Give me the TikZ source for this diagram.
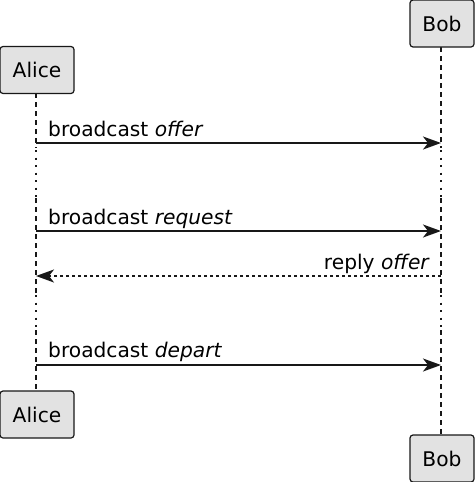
\documentclass[tikz,border=0pt]{standalone}
\usepackage{fontspec}
\setmainfont{DejaVu Sans}
\usetikzlibrary{arrows.meta}
\usetikzlibrary{positioning}

\definecolor{boxfill}{HTML}{E2E2E2}
\definecolor{ink}{HTML}{181818}

\tikzset{
  participant/.style={draw=ink, fill=boxfill, rounded corners=3pt, line width=1.2pt,
    inner sep=0pt, minimum height=47pt, font=\fontsize{20.2}{24}\selectfont},
  life/.style={draw=ink, line width=1.3pt, dash pattern=on 5pt off 4pt},
  delay/.style={draw=ink, line width=1.3pt, dash pattern=on 2pt off 5.5pt},
  msg/.style={draw=ink, line width=1.7pt, -{Stealth[length=18pt,width=13pt,inset=5pt]}},
  reply/.style={msg, dash pattern=on 3pt off 3pt},
  msglabel/.style={font=\fontsize{20.2}{24}\selectfont, inner sep=0pt},
}

\begin{document}
\begin{tikzpicture}[x=1pt, y=-1pt]
    \useasboundingbox (0,0) rectangle (474,482);

    % lifelines, dashed with dotted delays
    \foreach \x/\top/\bot in {36/93/391, 441/47/435}{
      \draw[life] (\x,\top) -- (\x,148);
      \draw[delay] (\x,150) -- (\x,198);
      \draw[life] (\x,198) -- (\x,293);
      \draw[delay] (\x,295) -- (\x,330);
      \draw[life] (\x,330) -- (\x,\bot);
    }

    \node[participant, minimum width=74pt] (alice) at (37,70) {Alice};
    \node[participant, minimum width=64pt] (bob) at (442,23.5) {Bob};
    \node[participant, minimum width=74pt] (aliceend) at (37,414.5) {Alice};
    \node[participant, minimum width=64pt] (bobend) at (442,458.5) {Bob};

    \coordinate (a1) at (36,143);
    \coordinate (b1) at (441,143);
    \coordinate (a2) at (36,231);
    \coordinate (b2) at (441,231);
    \coordinate (a3) at (36,276);
    \coordinate (b3) at (441,276);
    \coordinate (a4) at (36,365);
    \coordinate (b4) at (441,365);

    \draw[msg] (a1) -- (b1);
    \draw[msg] (a2) -- (b2);
    \draw[reply] (b3) -- (a3);
    \draw[msg] (a4) -- (b4);

    \node[msglabel, anchor=base west] (offer) at ([xshift=12pt,yshift=7pt]a1) {broadcast \textit{offer}};
    \node[msglabel, anchor=base west] (request) at ([xshift=12pt,yshift=7pt]a2) {broadcast \textit{request}};
    \node[msglabel, anchor=base east] (replyoffer) at ([xshift=-11pt,yshift=7pt]b3) {reply \textit{offer}};
    \node[msglabel, anchor=base west] (depart) at ([xshift=12pt,yshift=8pt]a4) {broadcast \textit{depart}};
\end{tikzpicture}
\end{document}
